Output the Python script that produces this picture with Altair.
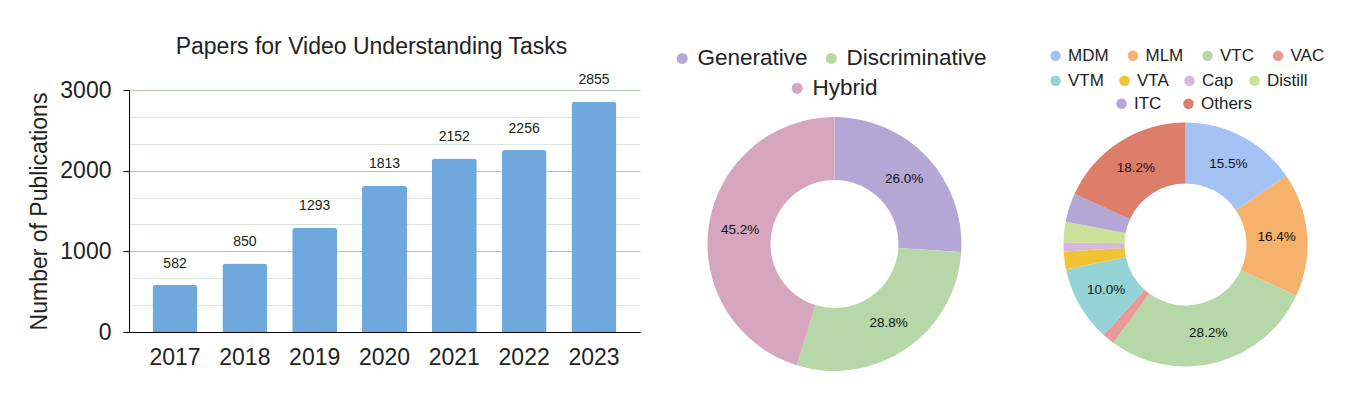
import altair as alt
import pandas as pd

# ---------------- data ----------------
years = ["2017", "2018", "2019", "2020", "2021", "2022", "2023"]
papers = [582, 850, 1293, 1813, 2152, 2256, 2855]

paradigms = ["Generative", "Discriminative", "Hybrid"]
paradigm_share = [26.0, 28.8, 45.2]
paradigm_colors = ["#b4a7d6", "#b6d7a8", "#d5a6bd"]

tasks = ["MDM", "MLM", "VTC", "VAC", "VTM", "VTA", "Cap", "Distill", "ITC", "Others"]
task_share = [15.5, 16.4, 28.2, 1.6, 10.0, 2.4, 1.2, 2.7, 3.8, 18.2]
task_colors = ["#a4c2f4", "#f6b26b", "#b6d7a8", "#ea9999", "#95d4d6",
               "#f1c232", "#d5b8dc", "#c9e297", "#b4a7d6", "#dd7e6b"]

y_ticks = [round(i * 1000 / 3, 3) for i in range(10)]

FONT = "Liberation Sans"
TXT = "#222222"
MAJOR = "abs(datum.value / 1000 - round(datum.value / 1000)) < 0.001"

# ---------------- bar chart ----------------
bar_df = pd.DataFrame({"year": years, "papers": papers})
base = alt.Chart(bar_df)

x_enc = alt.X(
    "year:N",
    scale=alt.Scale(paddingInner=0.356, paddingOuter=0.337),
    axis=alt.Axis(title=None, labelAngle=0, labelFontSize=23, labelFont=FONT,
                  labelColor=TXT, ticks=False, domainColor="#000000",
                  labelPadding=14, grid=False),
)
y_enc = alt.Y(
    "papers:Q",
    scale=alt.Scale(domain=[0, 3000], nice=False),
    axis=alt.Axis(
        values=y_ticks,
        tickCount=40,
        title="Number of Publications",
        titleFontSize=23, titleFont=FONT, titleFontWeight="normal", titleColor=TXT,
        titlePadding=8,
        labelFontSize=23, labelFont=FONT, labelColor=TXT, labelPadding=12,
        labelExpr=f"{MAJOR} ? format(round(datum.value), 'd') : ''",
        labelOverlap=False,
        minExtent=70, maxExtent=70,
        tickSize=6,
        tickColor={"condition": {"test": MAJOR, "value": "#000000"},
                   "value": "transparent"},
        gridColor={"condition": {"test": MAJOR, "value": "#b9c6b2"},
                   "value": "#e0e5dc"},
        grid=True,
        domainColor="#000000",
    ),
)

bars = base.mark_bar(color="#6fa8dc", cornerRadiusTopLeft=3, cornerRadiusTopRight=3).encode(
    x=x_enc, y=y_enc
)
bar_labels = base.mark_text(
    fontSize=14, font=FONT, color="#142414", baseline="middle", dy=-21.5
).encode(x="year:N", y="papers:Q", text="papers:Q")

bar_chart = alt.layer(bars, bar_labels).properties(
    width=511, height=242,
    title=alt.TitleParams("Papers for Video Understanding Tasks", fontSize=23, font=FONT,
                          fontWeight="normal", color=TXT, dx=-13, offset=14),
)


# ---------------- donuts ----------------
def donut(names, shares, colors, cx, cy, R, r, w, h, legends, fs, sym):
    """legends: list of (values, x, y, column padding)"""
    df = pd.DataFrame({"name": names, "share": shares, "idx": list(range(len(names)))})
    df["label"] = [f"{v:.1f}%" if v >= 5 else "" for v in shares]
    scale = alt.Scale(domain=names, range=colors)

    def leg(vals, lx, ly, cpad):
        return alt.Legend(
            values=vals, title=None, orient="none", legendX=lx, legendY=ly,
            direction="horizontal", columns=len(vals),
            symbolType="circle", symbolSize=sym, symbolStrokeWidth=0, symbolOpacity=1,
            labelFontSize=fs, labelFont=FONT, labelColor=TXT, labelOffset=4,
            columnPadding=cpad, rowPadding=0, padding=0,
        )

    b = alt.Chart(df)
    common = dict(
        theta=alt.Theta("share:Q", stack=True),
        order=alt.Order("idx:Q"),
        x=alt.value(cx), y=alt.value(cy),
    )
    layers = []
    for k, (vals, lx, ly, cpad) in enumerate(legends):
        layers.append(
            b.mark_arc(innerRadius=r, outerRadius=R, opacity=1 if k == 0 else 0).encode(
                color=alt.Color("name:N", scale=scale, legend=leg(vals, lx, ly, cpad)),
                **common,
            )
        )
    labels = b.mark_text(radius=(R + r) / 2, fontSize=13.5, font=FONT, color="#111111").encode(
        text="label:N", **common
    )
    layers.append(labels)
    return alt.layer(*layers).resolve_scale(color="independent").properties(
        width=w, height=h
    )


donut1 = donut(paradigms, paradigm_share, paradigm_colors,
               cx=174.5, cy=154, R=127, r=64, w=340, h=242,
               legends=[(paradigms[:2], 11, -43, 12), (paradigms[2:], 126, -13, 12)],
               fs=22.5, sym=121)

donut2 = donut(tasks, task_share, task_colors,
               cx=165.5, cy=154.5, R=122, r=61, w=320, h=242,
               legends=[(tasks[:4], 27, -43, 15.5), (tasks[4:8], 27, -18, 12),
                        (tasks[8:], 93, 5, 18)],
               fs=17, sym=110)

chart = alt.hconcat(bar_chart, donut1, donut2, spacing=20, bounds="flush").resolve_scale(
    color="independent"
).properties(
    padding={"left": 19, "top": 28, "right": 0, "bottom": 0},
    background="white",
).configure_view(strokeWidth=0)

chart.save("out.html", embed_options={"renderer": "svg", "actions": False})
